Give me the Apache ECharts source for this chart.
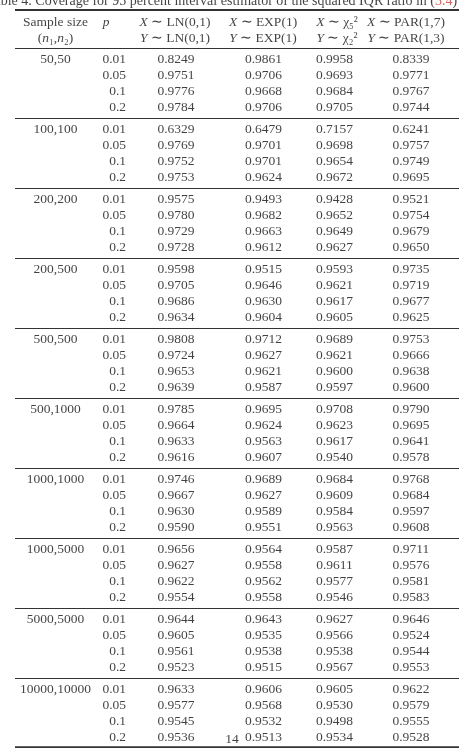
<!DOCTYPE html>
<html><head><meta charset="utf-8">
<script src="https://cdn.jsdelivr.net/npm/echarts@6/dist/echarts.min.js"></script>
<style>html,body{margin:0;padding:0;background:#fff}#c{width:474px;height:748px}</style>
</head><body><div id="c"></div>
<script>
const sampleSizes = ['50,50','100,100','200,200','200,500','500,500','500,1000','1000,1000','1000,5000','5000,5000','10000,10000'];
const pLevels = ['0.01','0.05','0.1','0.2'];
const lnValues = [
 '0.8249','0.9751','0.9776','0.9784',
 '0.6329','0.9769','0.9752','0.9753',
 '0.9575','0.9780','0.9729','0.9728',
 '0.9598','0.9705','0.9686','0.9634',
 '0.9808','0.9724','0.9653','0.9639',
 '0.9785','0.9664','0.9633','0.9616',
 '0.9746','0.9667','0.9630','0.9590',
 '0.9656','0.9627','0.9622','0.9554',
 '0.9644','0.9605','0.9561','0.9523',
 '0.9633','0.9577','0.9545','0.9536'];
const expValues = [
 '0.9861','0.9706','0.9668','0.9706',
 '0.6479','0.9701','0.9701','0.9624',
 '0.9493','0.9682','0.9663','0.9612',
 '0.9515','0.9646','0.9630','0.9604',
 '0.9712','0.9627','0.9621','0.9587',
 '0.9695','0.9624','0.9563','0.9607',
 '0.9689','0.9627','0.9589','0.9551',
 '0.9564','0.9558','0.9562','0.9558',
 '0.9643','0.9535','0.9538','0.9515',
 '0.9606','0.9568','0.9532','0.9513'];
const chiValues = [
 '0.9958','0.9693','0.9684','0.9705',
 '0.7157','0.9698','0.9654','0.9672',
 '0.9428','0.9652','0.9649','0.9627',
 '0.9593','0.9621','0.9617','0.9605',
 '0.9689','0.9621','0.9600','0.9597',
 '0.9708','0.9623','0.9617','0.9540',
 '0.9684','0.9609','0.9584','0.9563',
 '0.9587','0.9611','0.9577','0.9546',
 '0.9627','0.9566','0.9538','0.9567',
 '0.9605','0.9530','0.9498','0.9534'];
const parValues = [
 '0.8339','0.9771','0.9767','0.9744',
 '0.6241','0.9757','0.9749','0.9695',
 '0.9521','0.9754','0.9679','0.9650',
 '0.9735','0.9719','0.9677','0.9625',
 '0.9753','0.9666','0.9638','0.9600',
 '0.9790','0.9695','0.9641','0.9578',
 '0.9768','0.9684','0.9597','0.9608',
 '0.9711','0.9576','0.9581','0.9583',
 '0.9646','0.9524','0.9544','0.9553',
 '0.9622','0.9579','0.9555','0.9528'];
const headerTop = ['Sample size','{i|p}','{i|X} ∼ LN(0,1)','{i|X} ∼ EXP(1)','{i|X} ∼ χ₅²','{i|X} ∼ PAR(1,7)'];
const headerBottom = ['({i|n}₁,{i|n}₂)','','{i|Y} ∼ LN(0,1)','{i|Y} ∼ EXP(1)','{i|Y} ∼ χ₂²','{i|Y} ∼ PAR(1,3)'];
const titleText = 'Table 4. Coverage for 95 percent interval estimator of the squared IQR ratio in (';

// layout
const colX = {size:55.5, p:126, ln:176, exp:263.5, chi:334.5, par:411};
const hdrX = [55.5, 106, 175, 263, 337, 406];
const y0 = 59, groupStep = 70, rowStep = 16;
const font = 'Liberation Serif';
const richStyles = {i:{fontFamily:font,fontSize:13.5,fontStyle:'italic',color:'#111'}};

const pts = [];
function add(x, y, text, align, extra){ pts.push({value:[x,y], label:Object.assign({formatter:text, align:align||'center'}, extra||{})}); }
sampleSizes.forEach((s,g)=>{
  const gy = y0 + g*groupStep;
  add(colX.size, gy, s);
  pLevels.forEach((p,r)=>{
    const y = gy + r*rowStep, i = g*4+r;
    add(colX.p, y, p, 'right');
    add(colX.ln, y, lnValues[i]);
    add(colX.exp, y, expValues[i]);
    add(colX.chi, y, chiValues[i]);
    add(colX.par, y, parValues[i]);
  });
});
headerTop.forEach((t,i)=>add(hdrX[i], 22, t, 'center', {rich:richStyles}));
headerBottom.forEach((t,i)=>{ if(t) add(hdrX[i], 38, t, 'center', {rich:richStyles}); });
add(232, 739, '14');
pts.push({value:[222,1], label:{formatter:'{a|'+titleText+'}{r|3.4}{a|)}', align:'center',
  rich:{a:{fontFamily:font,fontSize:14,color:'#111'}, r:{fontFamily:font,fontSize:14,color:'#e0342b'}}}});

const lines = [];
function rule(y,w){ lines.push({coords:[[15,y],[459,y]], lineStyle:{width:w}}); }
rule(10,2); rule(48,1.2);
for(let g=1; g<sampleSizes.length; g++) rule(y0+g*groupStep-11, 1.2);
rule(747,2.5);

const chart = echarts.init(document.getElementById('c'), null, {renderer:'canvas'});
chart.setOption({
  animation:false,
  grid:{left:0,right:0,top:0,bottom:0},
  xAxis:{type:'value',min:0,max:474,show:false},
  yAxis:{type:'value',min:0,max:748,inverse:true,show:false},
  series:[
    {type:'scatter', symbolSize:0, data:pts,
     label:{show:true, position:'inside', verticalAlign:'middle', fontFamily:font, fontSize:13.5, color:'#111'}},
    {type:'lines', coordinateSystem:'cartesian2d', data:lines, lineStyle:{color:'#333', opacity:1}, silent:true}
  ]
});
</script></body></html>
